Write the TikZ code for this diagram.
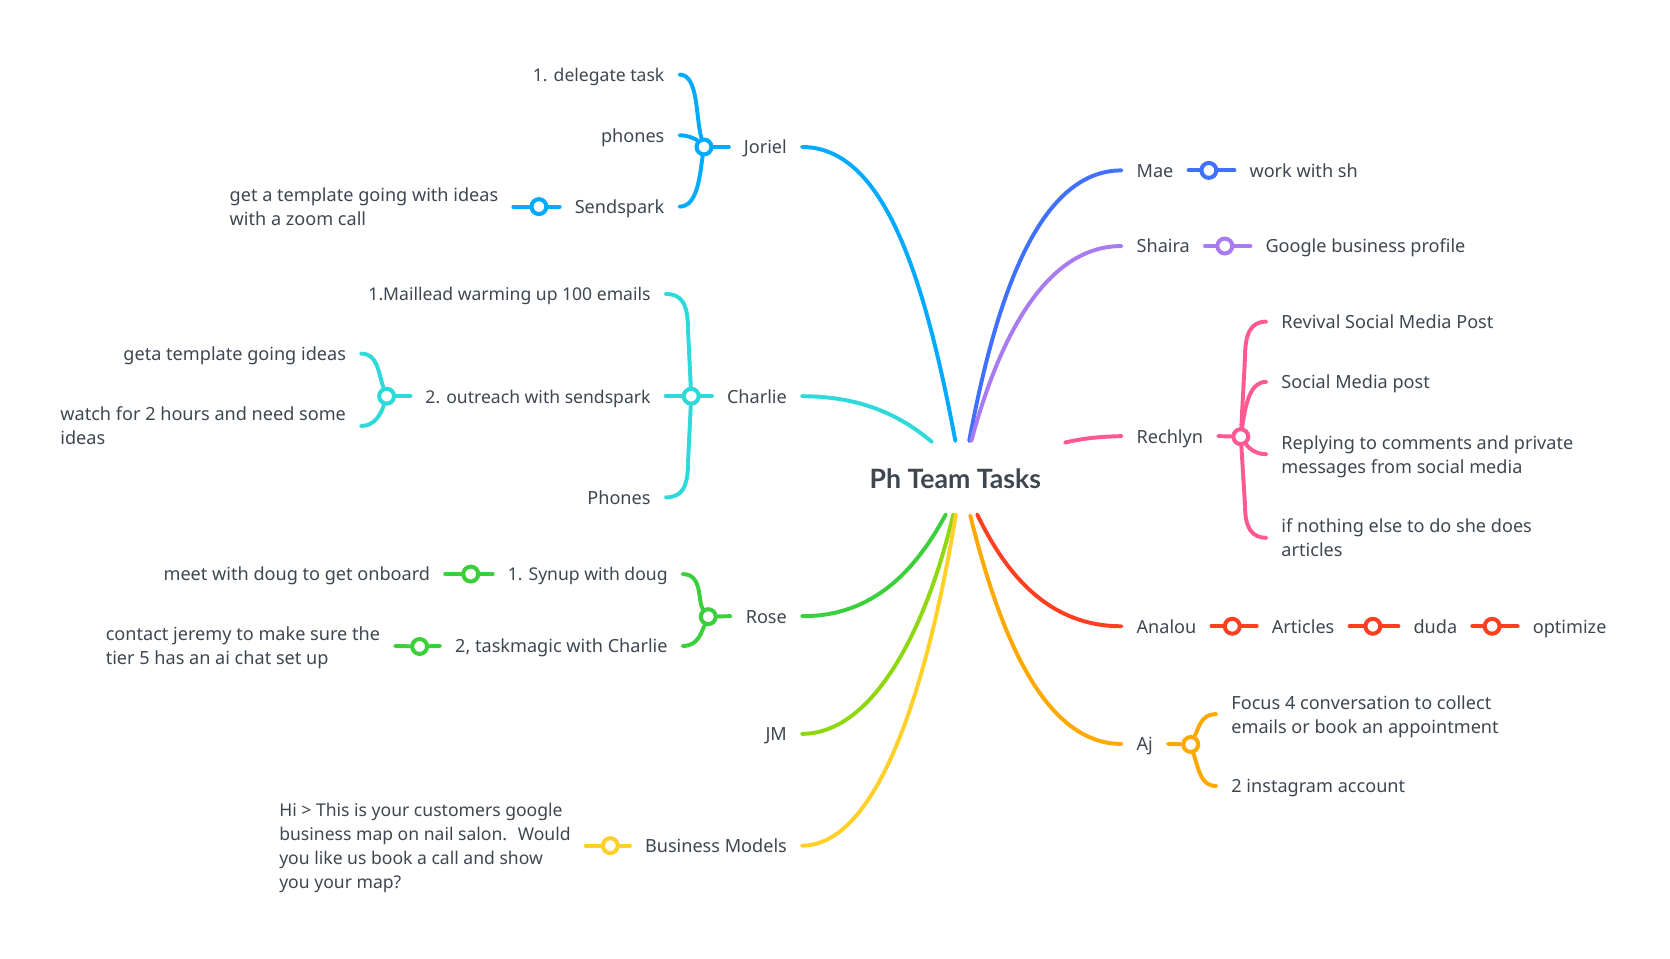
\documentclass[tikz,border=0pt]{standalone}
\usepackage{fontspec}
\setmainfont{Noto Sans}
\newfontfamily\rootfont{Lato}
\usetikzlibrary{backgrounds}
\definecolor{ink}{HTML}{3E4650}
\definecolor{cjor}{HTML}{00AAFF}
\definecolor{cmae}{HTML}{4070FF}
\definecolor{csha}{HTML}{A87CF0}
\definecolor{creh}{HTML}{FF5A8F}
\definecolor{ccha}{HTML}{2DD9D9}
\definecolor{cros}{HTML}{3CCF3C}
\definecolor{cjm}{HTML}{8FD80F}
\definecolor{cbus}{HTML}{FFD028}
\definecolor{caj}{HTML}{FFA800}
\definecolor{cana}{HTML}{FF4020}
\newcommand\topstrut{\rule{0pt}{18pt}}
\newcommand\botstrut{\rule[-5pt]{0pt}{5pt}}
\tikzset{
  lab/.style={inner xsep=14pt,inner ysep=0pt,text=ink,font=\fontsize{17}{22.5}\selectfont,align=left},
  tight/.style={font=\fontsize{16.5}{22.5}\selectfont},
  one/.style={lab,text height=13pt,text depth=0pt},
  multi/.style={lab},
  lft/.style={one,anchor=east},
  rgt/.style={one,anchor=west},
  hub/.style={circle,draw,fill=white,line width=3.8pt,minimum size=14pt,inner sep=0pt},
  wire/.style={line width=3.7pt,line cap=round}
}
\begin{document}
\begin{tikzpicture}[x=1pt,y=-1pt]
\useasboundingbox (0,0) rectangle (1568,899.5);
\node[text=ink,font=\fontsize{25}{28}\selectfont\rootfont\bfseries] (root) at (897,449) {Ph Team Tasks};
\coordinate (rA) at (875,415);
\coordinate (rB) at (897,414);
\coordinate (rC) at (910,414);
\coordinate (rD) at (912,414);
\coordinate (rE) at (1000,415.5);
\coordinate (rF) at (888,483);
\coordinate (rG) at (895,483);
\coordinate (rH) at (897.5,483);
\coordinate (rI) at (911,484);
\coordinate (rJ) at (917.5,483);
% Joriel
\node[lft] (joriel) at (753,138) {Joriel};
\node[hub,draw=cjor] (hJ) at (661,138) {};
\node[lft,tight] (delegate) at (638,70) {1. delegate task};
\node[lft] (phones) at (638,127) {phones};
\node[lft] (sendspark) at (638,194) {Sendspark};
\node[hub,draw=cjor] (hS) at (506,194) {};
\node[multi,anchor=east] (template) at (482,194) {\topstrut get a template going with ideas\\with a zoom call\botstrut};
% Charlie
\node[lft] (charlie) at (753,372) {Charlie};
\node[hub,draw=ccha] (hC) at (649,372) {};
\node[lft,tight] (maillead) at (625,276) {1.Maillead warming up 100 emails};
\node[lft,tight] (outreach) at (625,372) {2. outreach with sendspark};
\node[lft] (cphones) at (625,467) {Phones};
\node[hub,draw=ccha] (hO) at (363,372) {};
\node[lft] (geta) at (339,332) {geta template going ideas};
\node[multi,anchor=east] (watch) at (339,400) {\topstrut watch for 2 hours and need some\\ideas\botstrut};
% Rose
\node[lft] (rose) at (753,578.5) {Rose};
\node[hub,draw=cros] (hR) at (665,579) {};
\node[lft,tight] (synup) at (641,539) {1. Synup with doug};
\node[lft] (taskmagic) at (641,606.5) {2, taskmagic with Charlie};
\node[hub,draw=cros] (hY) at (442,539) {};
\node[lft] (meet) at (418,539) {meet with doug to get onboard};
\node[hub,draw=cros] (hT) at (394,607) {};
\node[multi,anchor=east] (contact) at (371,606.5) {\topstrut contact jeremy to make sure the\\tier 5 has an ai chat set up\botstrut};
% JM, Business Models
\node[lft] (jm) at (753,689) {JM};
\node[lft] (business) at (753,794) {Business Models};
\node[hub,draw=cbus] (hB) at (573,794) {};
\node[multi,tight,anchor=east] (hi) at (550,794) {\topstrut Hi > This is your customers google\\business map on nail salon.~ Would\\you like us book a call and show\\you your map?\botstrut};
% Mae, Shaira
\node[rgt] (mae) at (1053,160) {Mae};
\node[hub,draw=cmae] (hM) at (1135,160) {};
\node[rgt] (worksh) at (1159,160) {work with sh};
\node[rgt] (shaira) at (1053,231) {Shaira};
\node[hub,draw=csha] (hH) at (1150,231) {};
\node[rgt] (google) at (1174,231) {Google business profile};
% Rechlyn
\node[rgt] (rechlyn) at (1053,409.5) {Rechlyn};
\node[hub,draw=creh] (hE) at (1165,410) {};
\node[rgt] (revival) at (1189,302) {Revival Social Media Post};
\node[rgt] (social) at (1189,358.5) {Social Media post};
\node[multi,anchor=west] (replying) at (1189,426.5) {\topstrut Replying to comments and private\\messages from social media\botstrut};
\node[multi,anchor=west] (nothing) at (1189,505) {\topstrut if nothing else to do she does\\articles\botstrut};
% Analou
\node[rgt] (analou) at (1053,588) {Analou};
\node[hub,draw=cana] (hA) at (1157,588) {};
\node[rgt] (articles) at (1180,588) {Articles};
\node[hub,draw=cana] (hD) at (1289,588) {};
\node[rgt] (duda) at (1313,588) {duda};
\node[hub,draw=cana] (hP) at (1401,588) {};
\node[rgt] (optimize) at (1425,588) {optimize};
% Aj
\node[rgt] (aj) at (1053,698.5) {Aj};
\node[hub,draw=caj] (hK) at (1118,699) {};
\node[multi,anchor=west] (focus) at (1142,670.5) {\topstrut Focus 4 conversation to collect\\emails or book an appointment\botstrut};
\node[rgt] (insta) at (1142,738) {2 instagram account};
\begin{scope}[on background layer]
\draw[wire,cjor] (joriel.east) .. controls (830,138) and (868,260) .. (rB);
\draw[wire,cjor] (joriel.west) -- (hJ);
\draw[wire,cjor] (delegate.east) .. controls (656,70) and (653,110) .. (hJ);
\draw[wire,cjor] (phones.east) .. controls (648,127) and (655,132) .. (hJ);
\draw[wire,cjor] (sendspark.east) .. controls (655,194) and (657,165) .. (hJ);
\draw[wire,cjor] (sendspark.west) -- (hS);
\draw[wire,cjor] (hS) -- (template.east);
\draw[wire,ccha] (charlie.east) .. controls (800,372) and (840,385) .. (rA);
\draw[wire,ccha] (charlie.west) -- (hC);
\draw[wire,ccha] (outreach.east) -- (hC);
\draw[wire,ccha] (maillead.east) .. controls (640,276) and (646,285) .. (646,310) -- (hC);
\draw[wire,ccha] (cphones.east) .. controls (640,467) and (646,458) .. (646,434) -- (hC);
\draw[wire,ccha] (outreach.west) -- (hO);
\draw[wire,ccha] (geta.east) .. controls (355,332) and (355,350) .. (hO);
\draw[wire,ccha] (watch.east) .. controls (352,400) and (358,388) .. (hO);
\draw[wire,cros] (rose.east) .. controls (820,579) and (860,535) .. (rF);
\draw[wire,cros] (rose.west) -- (hR);
\draw[wire,cros] (synup.east) .. controls (660,539) and (655,565) .. (hR);
\draw[wire,cros] (taskmagic.east) .. controls (655,606.5) and (658,595) .. (hR);
\draw[wire,cros] (synup.west) -- (hY);
\draw[wire,cros] (meet.east) -- (hY);
\draw[wire,cros] (taskmagic.west) -- (hT);
\draw[wire,cros] (contact.east) -- (hT);
\draw[wire,cjm] (jm.east) .. controls (820,689) and (870,590) .. (rG);
\draw[wire,cbus] (business.east) .. controls (830,794) and (875,620) .. (rH);
\draw[wire,cbus] (business.west) -- (hB);
\draw[wire,cbus] (hi.east) -- (hB);
\draw[wire,cmae] (mae.west) .. controls (975,160) and (935,280) .. (rC);
\draw[wire,cmae] (mae.east) -- (hM);
\draw[wire,cmae] (worksh.west) -- (hM);
\draw[wire,csha] (shaira.west) .. controls (985,231) and (940,310) .. (rD);
\draw[wire,csha] (shaira.east) -- (hH);
\draw[wire,csha] (google.west) -- (hH);
\draw[wire,creh] (rechlyn.west) .. controls (1030,410) and (1015,412) .. (rE);
\draw[wire,creh] (rechlyn.east) -- (hE);
\draw[wire,creh] (revival.west) .. controls (1175,302) and (1169,312) .. (1169,335) -- (hE);
\draw[wire,creh] (social.west) .. controls (1175,358.5) and (1170,375) .. (hE);
\draw[wire,creh] (replying.west) .. controls (1178,426.5) and (1172,420) .. (hE);
\draw[wire,creh] (nothing.west) .. controls (1175,505) and (1169,495) .. (1169,475) -- (hE);
\draw[wire,cana] (analou.west) .. controls (985,588) and (945,540) .. (rJ);
\draw[wire,cana] (analou.east) -- (hA);
\draw[wire,cana] (articles.west) -- (hA);
\draw[wire,cana] (articles.east) -- (hD);
\draw[wire,cana] (duda.west) -- (hD);
\draw[wire,cana] (duda.east) -- (hP);
\draw[wire,cana] (optimize.west) -- (hP);
\draw[wire,caj] (aj.west) .. controls (975,698.5) and (935,580) .. (rI);
\draw[wire,caj] (aj.east) -- (hK);
\draw[wire,caj] (focus.west) .. controls (1128,670.5) and (1126,682) .. (hK);
\draw[wire,caj] (insta.west) .. controls (1128,738) and (1126,725) .. (hK);
\end{scope}
\end{tikzpicture}
\end{document}
